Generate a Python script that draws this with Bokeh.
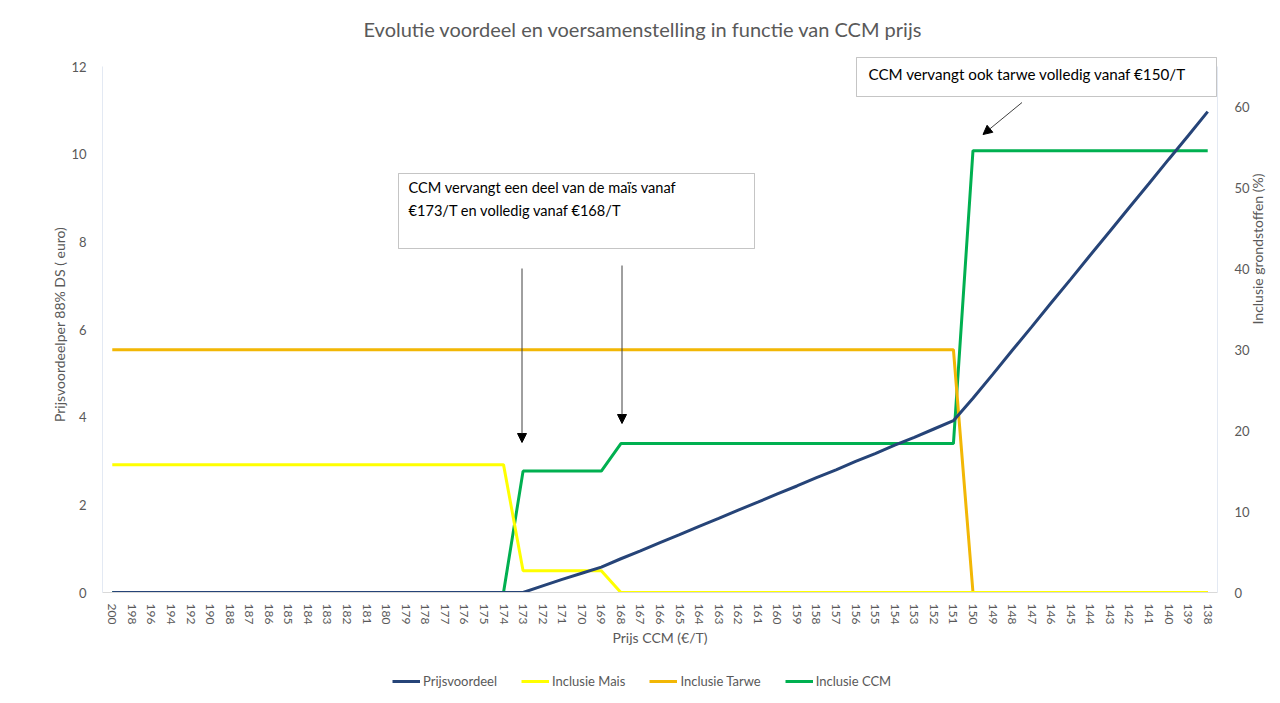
import math
from bokeh.plotting import figure
from bokeh.layouts import column
from bokeh.models import (FactorRange, Range1d, LinearAxis, Legend, LegendItem, Label,
                          Arrow, NormalHead, ColumnDataSource, FixedTicker, BoxAnnotation)
from bokeh.embed import file_html
from bokeh.resources import INLINE

# ---------------- data ----------------
prices = ["200", "198", "196", "194", "192", "190", "188", "187", "186", "185",
          "184", "183", "182", "181", "180", "179", "178", "177", "176", "175",
          "174", "173", "172", "171", "170", "169", "168", "167", "166", "165",
          "164", "163", "162", "161", "160", "159", "158", "157", "156", "155",
          "154", "153", "152", "151", "150", "149", "148", "147", "146", "145",
          "144", "143", "142", "141", "140", "139", "138"]

prijsvoordeel = [0, 0, 0, 0, 0, 0, 0, 0, 0, 0,
                 0, 0, 0, 0, 0, 0, 0, 0, 0, 0,
                 0, 0, 0.15, 0.30, 0.44, 0.58, 0.77, 0.95, 1.14, 1.32,
                 1.51, 1.69, 1.88, 2.06, 2.25, 2.43, 2.62, 2.80, 2.99, 3.17,
                 3.36, 3.54, 3.73, 3.92, 4.43, 4.97, 5.52, 6.06, 6.61, 7.15,
                 7.70, 8.24, 8.79, 9.33, 9.88, 10.42, 10.97]

inclusie_mais = [15.8] * 21 + [2.7] * 5 + [0] * 31
inclusie_tarwe = [30.0] * 44 + [0] * 13
inclusie_ccm = [0] * 21 + [15.0] * 5 + [18.4] * 18 + [54.6] * 13

left_max = 12
right_max = 65
left_ticks = [0, 2, 4, 6, 8, 10, 12]
right_ticks = [0, 10, 20, 30, 40, 50, 60]

series_names = ["Prijsvoordeel", "Inclusie Mais", "Inclusie Tarwe", "Inclusie CCM"]
series_cols = ["voordeel", "mais", "tarwe", "ccm"]
series_colors = ["#264478", "#FFFF00", "#F2B705", "#00B050"]

title_text = "Evolutie voordeel en voersamenstelling in functie van CCM prijs"
note1 = "CCM vervangt een deel van de maïs vanaf\n€173/T en volledig vanaf €168/T"
note2 = "CCM vervangt ook tarwe volledig vanaf €150/T"

# ---------------- layout constants ----------------
FONT = "Lato"
GREY = "#595959"
W = 1280
AXIS_TOP = 66        # pixel row of the top of the value axes
FRAME_TOP = 56       # frame extends a little higher so the note box is not clipped
FRAME_BOTTOM = 592
stretch = (FRAME_BOTTOM - FRAME_TOP) / (FRAME_BOTTOM - AXIS_TOP)

src = ColumnDataSource(dict(price=prices, voordeel=prijsvoordeel, mais=inclusie_mais,
                            tarwe=inclusie_tarwe, ccm=inclusie_ccm))

p = figure(x_range=FactorRange(factors=prices), y_range=Range1d(0, left_max * stretch),
           width=W, height=662, output_backend="svg", toolbar_location=None,
           min_border_left=102, min_border_right=W - 1217, min_border_top=FRAME_TOP,
           min_border_bottom=662 - FRAME_BOTTOM)
p.extra_y_ranges = {"pct": Range1d(0, right_max * stretch)}
p.outline_line_color = None
p.xgrid.visible = False
p.ygrid.visible = False

p.title.text = title_text
p.title.align = "left"
p.title.offset = 261
p.title.vertical_align = "top"
p.title.text_font = FONT
p.title.text_font_size = "20px"
p.title.text_font_style = "normal"
p.title.text_color = GREY
p.title.standoff = 28

def style_axis(ax, line_color, tick_size):
    ax.axis_line_color = line_color
    ax.major_tick_line_color = None
    ax.minor_tick_line_color = None
    ax.major_label_text_font = FONT
    ax.major_label_text_font_size = tick_size
    ax.major_label_text_color = GREY
    ax.axis_label_text_font = FONT
    ax.axis_label_text_font_size = "14px"
    ax.axis_label_text_font_style = "normal"
    ax.axis_label_text_color = GREY

xa = p.xaxis[0]
style_axis(xa, "#D9D9D9", "12px")
xa.major_label_orientation = "vertical"
xa.axis_label = "Prijs CCM (€/T)"
xa.major_label_standoff = 5
xa.axis_label_standoff = 2

ya = p.yaxis[0]
style_axis(ya, "#E3E9F3", "13px")
ya.ticker = FixedTicker(ticks=left_ticks)
ya.bounds = (0, left_max)
ya.axis_label = "Prijsvoordeelper 88% DS ( euro)"
ya.major_label_standoff = 10
ya.axis_label_standoff = 0

ra = LinearAxis(y_range_name="pct", ticker=FixedTicker(ticks=right_ticks),
                axis_label="Inclusie grondstoffen (%)")
style_axis(ra, "#E3E9F3", "13px")
ra.bounds = (0, right_max)
ra.major_label_standoff = 11
ra.axis_label_standoff = 5
ra.axis_label_orientation = math.pi / 2
p.add_layout(ra, "right")

for col_name, colr in reversed(list(zip(series_cols, series_colors))):
    if col_name == "voordeel":
        p.line("price", col_name, source=src, line_color=colr, line_width=3)
    else:
        p.line("price", col_name, source=src, y_range_name="pct", line_color=colr, line_width=3)

# annotation boxes (screen units relative to the frame's bottom-left corner)
box1 = BoxAnnotation(left=296, right=652, top=419, bottom=344,
                     left_units="screen", right_units="screen", top_units="screen", bottom_units="screen",
                     fill_color="white", fill_alpha=1, line_color="#404040", line_width=1)
box2 = BoxAnnotation(left=754, right=1114, top=535, bottom=496,
                     left_units="screen", right_units="screen", top_units="screen", bottom_units="screen",
                     fill_color="white", fill_alpha=1, line_color="#404040", line_width=1)
p.add_layout(box1)
p.add_layout(box2)

lab1 = Label(x=306, y=414, x_units="screen", y_units="screen", text=note1,
             text_font=FONT, text_font_size="14.6px", text_color="black",
             text_baseline="top", text_align="left", text_line_height=1.36)
lab2 = Label(x=766, y=528, x_units="screen", y_units="screen", text=note2,
             text_font=FONT, text_font_size="15.2px", text_color="black",
             text_baseline="top", text_align="left")
p.add_layout(lab1)
p.add_layout(lab2)

for (xs, ys, xe, ye) in [(419.5, 324, 419.5, 150), (519.5, 327, 519.5, 169), (919.5, 490, 880.5, 458)]:
    p.add_layout(Arrow(end=NormalHead(size=9, fill_color="black", line_color="black"),
                       x_start=xs, y_start=ys, x_end=xe, y_end=ye,
                       start_units="screen", end_units="screen",
                       line_color="#404040", line_width=1))

# ---------------- legend strip (same series, drawn out of view) ----------------
lf = figure(width=W, height=38, output_backend="svg", toolbar_location=None,
            x_range=FactorRange(factors=prices), y_range=Range1d(-200, -199),
            x_axis_type=None, y_axis_type=None, min_border=0)
lf.outline_line_color = None
lf.xgrid.visible = False
lf.ygrid.visible = False
items = []
for name, col_name, colr in zip(series_names, series_cols, series_colors):
    r = lf.line("price", col_name, source=src, line_color=colr, line_width=3)
    items.append(LegendItem(label=name, renderers=[r]))
legend = Legend(items=items, orientation="horizontal", location=(290, 9),
                label_text_font=FONT, label_text_font_size="13px", label_text_color=GREY,
                glyph_width=28, label_standoff=3, spacing=24, border_line_color=None,
                background_fill_alpha=0, margin=0, padding=2)
lf.add_layout(legend, "center")

open("out.html", "w").write(file_html(column(p, lf), INLINE))
